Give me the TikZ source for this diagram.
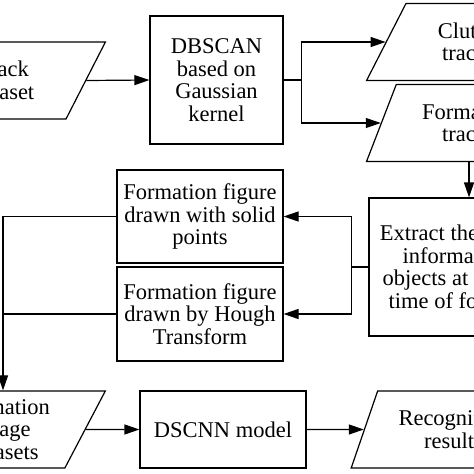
\documentclass[tikz,border=0pt]{standalone}
\usepackage{fontspec}
\setmainfont{Liberation Serif}
\usetikzlibrary{shapes.geometric,arrows.meta,positioning,calc}

\begin{document}
\begin{tikzpicture}[x=1pt, y=-1pt, line width=1.2pt, font=\fontsize{22.5}{22.5}\selectfont,
    box/.style={draw, rectangle, align=center, inner sep=0pt},
    para/.style={draw, trapezium, trapezium left angle=63, trapezium right angle=117, trapezium stretches=true, align=center, inner sep=0pt, minimum width=205pt, minimum height=77pt},
    arr/.style={-{Triangle[length=15pt,width=10pt]}}]
  \useasboundingbox (0,0) rectangle (474,474);
  \clip (0,0) rectangle (474,474);
  % top row
  \node[para] (track) at (3,80.5) {Track\\dataset};
  \node[box, minimum width=133pt, minimum height=128pt] (dbscan) at (216.5,80) {DBSCAN\\based on\\Gaussian\\kernel};
  \node[para] (clutter) at (469,42) {Clutter\\tracks};
  \node[para] (ftracks) at (469,123) {Formation\\tracks};
  % middle
  \node[box, minimum width=198pt, minimum height=138pt] (extract) at (468,267) {Extract the position\\information of\\objects at the same\\time of formation};
  \node[box, minimum width=166pt, minimum height=93pt] (solid) at (200,216.5) {Formation figure\\drawn with solid\\points};
  \node[box, minimum width=166pt, minimum height=94pt] (hough) at (200,314) {Formation figure\\drawn by Hough\\Transform};
  % bottom row
  \node[para] (fimage) at (3,429.5) {Formation\\image\\datasets};
  \node[box, minimum width=166pt, minimum height=77pt] (dscnn) at (223,429.5) {DSCNN model};
  \node[para] (recog) at (453.5,429.5) {Recognition\\results};
  % connectors
  \draw[arr] (track.east) -- (dbscan.west);
  \draw[arr] (dbscan.east) -- ++(18,0) |- (clutter.west);
  \draw[arr] (dbscan.east) -- ++(18,0) |- (ftracks.west);
  \draw[arr] (ftracks.south) -- (ftracks.south |- extract.north);
  \draw (extract.west) -- ++(-17,0) coordinate (split);
  \draw[arr] (split) |- (solid.east);
  \draw[arr] (split) |- (hough.east);
  \draw[arr] (solid.west) -| (fimage.north);
  \draw (hough.west) -- (hough.west -| fimage.north);
  \draw[arr] (fimage.east) -- (dscnn.west);
  \draw[arr] (dscnn.east) -- (recog.west);
\end{tikzpicture}
\end{document}
